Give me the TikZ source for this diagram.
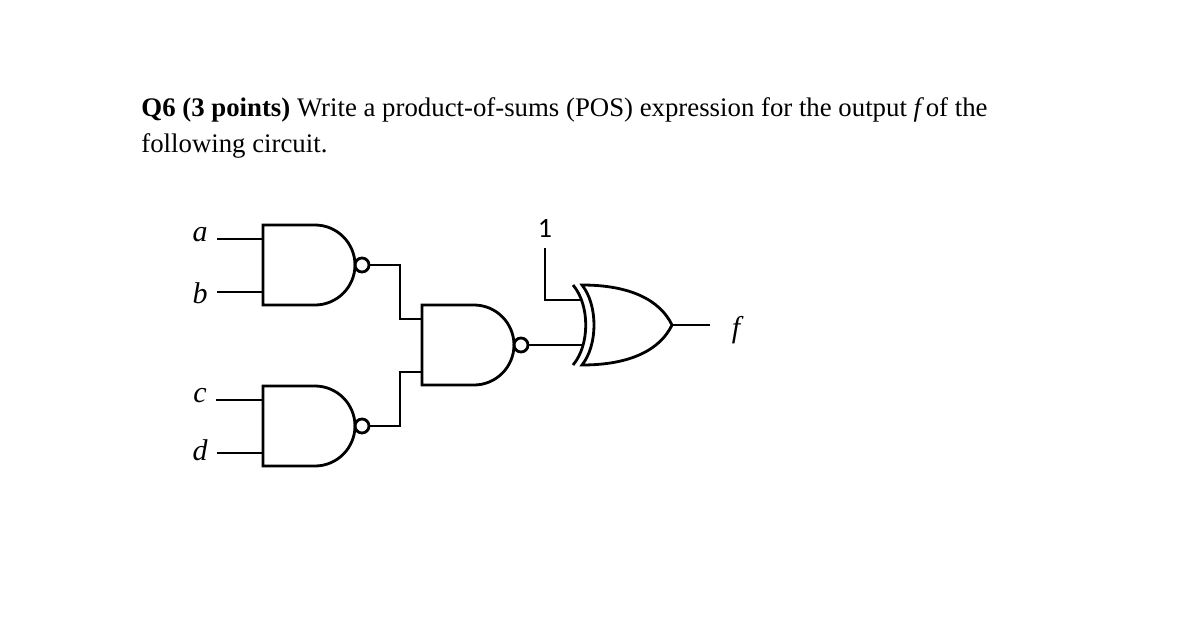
\documentclass[tikz,border=0pt]{standalone}
\usepackage{fontspec}
\setmainfont{Liberation Serif}
\newfontfamily\onefont{Carlito}
\begin{document}
\begin{tikzpicture}[x=1pt,y=-1pt,line width=2.8pt,
  wire/.style={line width=2.8pt},
  lbl/.style={font=\fontsize{30}{30}\selectfont\itshape,inner sep=0pt},
  txt/.style={font=\fontsize{26.8}{36}\selectfont,inner sep=0pt,anchor=base west}]
\useasboundingbox (0,0) rectangle (1179,627);
\newcommand\NandG[3]{%
  \draw (#1+52,#2) -- (#1,#2) -- (#1,#2+80) -- (#1+52,#2+80)
    .. controls (#1+74,#2+80) and (#1+92,#2+62) .. (#1+92,#2+40)
    .. controls (#1+92,#2+18) and (#1+74,#2) .. cycle;
  \draw (#1+99,#2+40) circle (7);
  \coordinate (#3-in1) at (#1,#2+14);
  \coordinate (#3-in2) at (#1,#2+67);
  \coordinate (#3-out) at (#1+106,#2+40);}
\node[txt] (t1) at (140,116) {\textbf{Q6 (3 points)} Write a product-of-sums (POS) expression for the output \textit{f\kern-2pt} of the};
\node[txt] (t2) at (140,152) {following circuit.};
\NandG{263}{225}{g1}
\NandG{263}{386}{g3}
\NandG{422}{305}{g2}
% XOR
\draw (573,285) .. controls (590,305) and (590,345) .. (573,365);
\draw (582,365) .. controls (598,345) and (598,305) .. (582,285)
  .. controls (630,285) and (660,300) .. (672,325)
  .. controls (660,350) and (630,365) .. cycle;
\coordinate (x-in1) at (581,300);
\coordinate (x-in2) at (582,345);
\coordinate (x-out) at (672,325);
\node[lbl] (a) at (200,235) {a};
\node[lbl] (b) at (200,293) {b};
\node[lbl] (c) at (200,396) {c};
\node[lbl] (d) at (200,450) {d};
\node[lbl] (f) at (736,330) {f};
\node[font=\onefont\fontsize{28}{28}\selectfont,inner sep=0pt] (one) at (545,228) {1};
\coordinate (oneend) at (545,248);
\draw[wire] (a.east)++(8,0) coordinate (ae) (ae |- g1-in1) -- (g1-in1);
\draw[wire] (b.east)++(8,0) coordinate (be) (be |- g1-in2) -- (g1-in2);
\draw[wire] (c.east)++(8,0) coordinate (ce) (ce |- g3-in1) -- (g3-in1);
\draw[wire] (d.east)++(8,0) coordinate (de) (de |- g3-in2) -- (g3-in2);
\draw[wire] (g1-out) -| (400,305) |- (g2-in1);
\draw[wire] (g3-out) -| (400,380) |- (g2-in2);
\draw[wire] (g2-out) -- (x-in2);
\draw[wire] (oneend) |- (x-in1);
\draw[wire] (x-out) -- (710,325);
\end{tikzpicture}
\end{document}
